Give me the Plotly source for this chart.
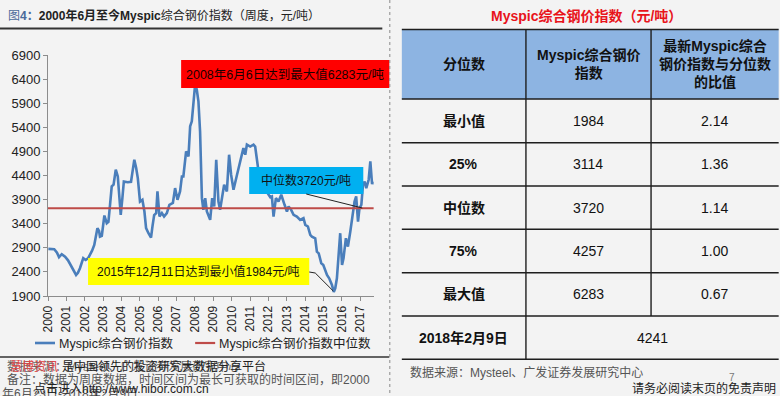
import plotly.graph_objects as go

# ---------------- data ----------------
years = [2000.02, 2000.34, 2000.49, 2000.60, 2000.75, 2000.93, 2001.09, 2001.31, 2001.53, 2001.63,
         2001.74, 2001.92, 2002.05, 2002.18, 2002.29, 2002.40, 2002.52, 2002.69, 2002.78, 2002.83,
         2002.93, 2003.07, 2003.20, 2003.29, 2003.38, 2003.47, 2003.57, 2003.69, 2003.80, 2003.87,
         2003.96, 2004.05, 2004.13, 2004.34, 2004.52, 2004.59, 2004.70, 2004.80, 2004.89, 2005.01,
         2005.14, 2005.25, 2005.34, 2005.47, 2005.61, 2005.69, 2005.78, 2005.89, 2005.96, 2006.07,
         2006.20, 2006.32, 2006.47, 2006.61, 2006.80, 2006.92, 2007.05, 2007.19, 2007.29, 2007.37,
         2007.52, 2007.65, 2007.74, 2007.83, 2007.92, 2008.01, 2008.10, 2008.19, 2008.28, 2008.38,
         2008.46, 2008.56, 2008.65, 2008.75, 2008.83, 2008.94, 2009.05, 2009.16, 2009.28, 2009.37,
         2009.47, 2009.59, 2009.74, 2009.86, 2009.97, 2010.10, 2010.25, 2010.37, 2010.50, 2010.64,
         2010.74, 2010.83, 2011.01, 2011.19, 2011.28, 2011.36, 2011.44, 2011.61, 2011.77, 2011.93,
         2012.10, 2012.19, 2012.28, 2012.41, 2012.55, 2012.70, 2012.88, 2013.01, 2013.10, 2013.24,
         2013.37, 2013.55, 2013.73, 2013.91, 2014.01, 2014.15, 2014.28, 2014.37, 2014.55, 2014.64,
         2014.74, 2014.88, 2014.99, 2015.10, 2015.19, 2015.31, 2015.46, 2015.56, 2015.64, 2015.73,
         2015.82, 2015.91, 2016.01, 2016.09, 2016.22, 2016.33, 2016.46, 2016.58, 2016.69, 2016.78,
         2016.88, 2016.96, 2017.06, 2017.15, 2017.24, 2017.33, 2017.46, 2017.55, 2017.64, 2017.73]
index_values = [2877, 2870, 2800, 2705, 2767, 2717, 2640, 2500, 2337, 2380,
                2476, 2684, 2648, 2680, 2752, 2840, 2960, 3307, 3250, 3133,
                3150, 3570, 3410, 3440, 3800, 4173, 4210, 4520, 4380, 4000,
                3584, 3930, 4276, 4260, 4270, 4450, 4727, 4555, 4347, 3860,
                3895, 3653, 3307, 3203, 3112, 3350, 3580, 3619, 4069, 3549,
                3620, 3549, 3620, 3792, 3830, 4139, 3896, 4069, 4380, 4380,
                4900, 4796, 5420, 5524, 6010, 6283, 6183, 5940, 5316, 3930,
                3688, 3930, 3653, 3560, 3480, 3930, 3760, 4727, 3860, 3688,
                3930, 4208, 4069, 4831, 4416, 4104, 4347, 4555, 4763, 4970,
                4831, 5040, 5000, 5040, 5000, 4700, 4550, 4350, 4200, 4050,
                3950, 3965, 3549, 3930, 3860, 4000, 3792, 3653, 3757, 3688,
                3584, 3549, 3480, 3515, 3376, 3342, 3168, 3133, 3098, 2820,
                2785, 2577, 2542, 2404, 2337, 2268, 2130, 1984, 2060, 2268,
                2684, 3203, 2545, 2684, 3099, 2925, 3237, 3515, 3860, 3965,
                3445, 3723, 3792, 4208, 4276, 4139, 4312, 4693, 4243, 4241]
median_value = 3720
x_tick_years = list(range(2000, 2018))
y_ticks = [1900, 2400, 2900, 3400, 3900, 4400, 4900, 5400, 5900, 6400, 6900]

series_name = "Myspic综合钢价指数"
median_name = "Myspic综合钢价指数中位数"

header_labels = ["<b>分位数</b>", "<b>Myspic综合钢价<br>指数</b>", "<b>最新Myspic综合<br>钢价指数与分位数<br>的比值</b>"]
quantile_labels = ["最小值", "25%", "中位数", "75%", "最大值"]
quantile_values = [1984, 3114, 3720, 4257, 6283]
ratio_values = ["2.14", "1.36", "1.14", "1.00", "0.67"]
latest_date = "2018年2月9日"
latest_value = 4241

# ---------------- layout helpers ----------------
W, H = 780, 396
L, R_EDGE, T, B_EDGE = 48, 373.7, 55, 296
def PX(px):
    return (px - L) / (R_EDGE - L)
def PY(py):
    return (B_EDGE - py) / (B_EDGE - T)

FONT = "Liberation Sans, Arial, Noto Sans CJK SC, sans-serif"
BG = "#F3F3F3"
BLUE = "#4A7EBB"
RED = "#BE4B48"

fig = go.Figure()
fig.add_trace(go.Scatter(x=years, y=index_values, mode="lines", name=series_name,
                         line=dict(color=BLUE, width=2.6), showlegend=False))
fig.add_trace(go.Scatter(x=[x_tick_years[0], years[-1]], y=[median_value, median_value],
                         mode="lines", name=median_name, line=dict(color=RED, width=2),
                         showlegend=False))

shapes = []
ann = []

def rect(x0, y0, x1, y1, fill, line_color=None, lw=0):
    shapes.append(dict(type="rect", xref="paper", yref="paper", x0=PX(x0), x1=PX(x1),
                       y0=PY(y0), y1=PY(y1), fillcolor=fill,
                       line=dict(width=lw, color=line_color or fill), layer="above"))

def seg(x0, y0, x1, y1, color="#222", w=1.5, dash="solid"):
    shapes.append(dict(type="line", xref="paper", yref="paper", x0=PX(x0), x1=PX(x1),
                       y0=PY(y0), y1=PY(y1), line=dict(color=color, width=w, dash=dash), layer="above"))

def text(x, y, s, size=12, color="#111", xanchor="center", yanchor="middle"):
    ann.append(dict(xref="paper", yref="paper", x=PX(x), y=PY(y), text=s, showarrow=False,
                    xanchor=xanchor, yanchor=yanchor, font=dict(size=size, color=color, family=FONT)))

# ---- left panel title ----
text(6, 16, "<span style='color:#4A6A9A'>图<b>4：</b></span><b>2000年6月至今Myspic</b>综合钢价指数（周度，元/吨）",
     size=12, color="#222", xanchor="left")
seg(0, 28.5, 382, 28.5, "#333", 2)

# ---- chart callouts ----
rect(181, 60, 389, 88, "#FF0000")
text(285, 74, "2008年6月6日达到最大值6283元/吨", size=12.5, color="#1a0000")
rect(249, 167, 363, 194, "#00B0F0")
text(306, 180.5, "中位数3720元/吨", size=12, color="#111")
seg(306, 194, 362, 208, "#222", 1)
rect(88, 258, 309, 285, "#FFFF00")
text(198.5, 271.5, "2015年12月11日达到最小值1984元/吨", size=12, color="#111")
seg(309, 272, 315, 273, "#222", 1)
seg(315, 273, 333, 291, "#222", 1)

# ---- legend (drawn from the trace names and colours) ----
seg(35, 343, 55, 343, BLUE, 2.6)
text(57, 343, series_name, size=12.5, color="#222", xanchor="left")
seg(195, 343, 215, 343, RED, 2.2)
text(217, 343, median_name, size=12.5, color="#222", xanchor="left")

# ---- left footnotes ----
seg(0, 357, 389, 357, "#333", 1.5)
text(5, 366, "数据来源：Mysteel、广发证券发展研究中心", size=12, color="#666", xanchor="left")
text(8, 366, "慧博资讯", size=12, color="#E04040", xanchor="left")
text(60, 366, "是中国领先的投资研究大数据分享平台", size=12, color="#222", xanchor="left")
text(5, 379, "备注：数据为周度数据，时间区间为最长可获取的时间区间，即2000", size=12, color="#555", xanchor="left")
text(0, 394, "年6月23日-2018年2月9日", size=12, color="#555", xanchor="left")
text(32, 389, "点击进入http://www.hibor.com.cn", size=12, color="#222", xanchor="left")

# ---- panel separator ----
seg(389.5, 0, 389.5, 396, "#8A8A8A", 1, "dot")

# ---- right table ----
text(586, 16, "<b>Myspic综合钢价指数（元/吨）</b>", size=14, color="#E8141B")
tx = [401.5, 525.5, 650.5, 778]
ty = [29.5, 99, 142.7, 186, 229.3, 272.7, 316, 359.3]
rect(tx[0], ty[0], tx[3], ty[1], "#8DB4E2")
for yy in ty:
    seg(tx[0], yy, tx[3], yy, "#1E1E1E", 1.6)
seg(tx[1], ty[0], tx[1], ty[7], "#1E1E1E", 1.4)
seg(tx[2], ty[0], tx[2], ty[6], "#1E1E1E", 1.4)
for j, h in enumerate(header_labels):
    text((tx[j] + tx[j + 1]) / 2, (ty[0] + ty[1]) / 2, h, size=14, color="#111")
for i in range(len(quantile_labels)):
    cy = (ty[i + 1] + ty[i + 2]) / 2
    text((tx[0] + tx[1]) / 2, cy, "<b>" + quantile_labels[i] + "</b>", size=14, color="#111")
    text((tx[1] + tx[2]) / 2, cy, str(quantile_values[i]), size=14, color="#111")
    text((tx[2] + tx[3]) / 2, cy, ratio_values[i], size=14, color="#111")
cy = (ty[6] + ty[7]) / 2
text((tx[0] + tx[1]) / 2, cy, "<b>" + latest_date + "</b>", size=14, color="#111")
text((tx[1] + tx[3]) / 2, cy, str(latest_value), size=14, color="#111")

text(408, 372, "数据来源：Mysteel、广发证券发展研究中心", size=12, color="#555", xanchor="left")
text(731, 377, "7", size=10, color="#777")
text(777, 388, "请务必阅读末页的免责声明", size=12, color="#222", xanchor="right")

fig.update_layout(
    width=W, height=H,
    margin=dict(l=L, r=W - R_EDGE, t=T, b=H - B_EDGE, autoexpand=False),
    paper_bgcolor=BG, plot_bgcolor=BG,
    font=dict(family=FONT, size=12, color="#222"),
    showlegend=False,
    shapes=shapes, annotations=ann,
    xaxis=dict(range=[2000, 2017.75], tickmode="array", tickvals=x_tick_years,
               ticktext=[str(y) for y in x_tick_years], tickangle=-90,
               showgrid=False, zeroline=False, showline=True, linecolor="#8C8C8C", linewidth=1,
               ticks="outside", ticklen=4, tickcolor="#8C8C8C",
               tickfont=dict(size=12, color="#222", family=FONT)),
    yaxis=dict(range=[1900, 6900], tickmode="array", tickvals=y_ticks,
               showgrid=False, zeroline=False, showline=True, linecolor="#8C8C8C", linewidth=1,
               ticks="outside", ticklen=4, tickcolor="#8C8C8C",
               tickfont=dict(size=13, color="#222", family=FONT)),
)

fig.write_html("out.html")
